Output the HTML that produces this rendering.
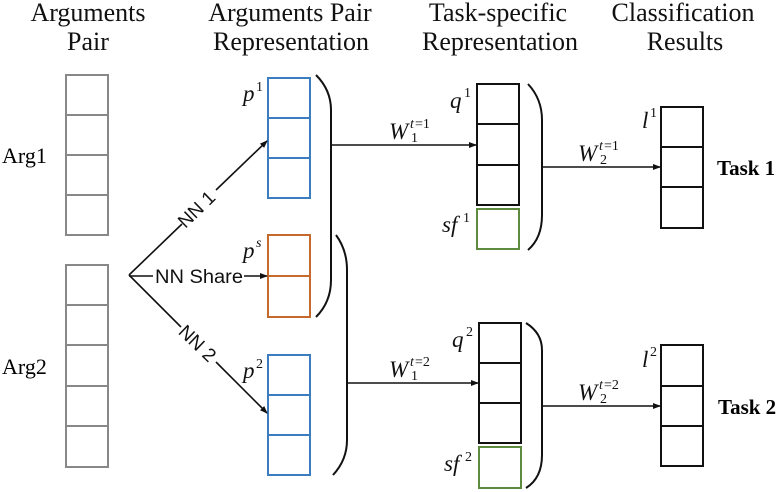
<!DOCTYPE html>
<html><head><meta charset="utf-8"><style>
html,body{margin:0;padding:0;background:#fff;}
svg{display:block;}
.h{font-family:"Liberation Serif",serif;font-size:26px;fill:#111;text-anchor:middle;}
.m{font-family:"Liberation Serif",serif;font-style:italic;font-size:23px;fill:#111;}
.s{font-family:"Liberation Serif",serif;font-size:14px;fill:#111;}
.si{font-family:"Liberation Serif",serif;font-style:italic;font-size:14px;fill:#111;}
.l{font-family:"Liberation Sans",sans-serif;font-size:19px;fill:#111;}
</style></head><body>
<svg width="781" height="492" viewBox="0 0 781 492" xmlns="http://www.w3.org/2000/svg">
<defs><marker id="a" markerWidth="8" markerHeight="6" refX="7" refY="3" orient="auto" markerUnits="userSpaceOnUse"><path d="M0,0 L8,3 L0,6 z" fill="#111"/></marker></defs>
<text class="h" x="88" y="21">Arguments</text><text class="h" x="88" y="50">Pair</text>
<text class="h" x="290" y="21">Arguments Pair</text><text class="h" x="291" y="50">Representation</text>
<text class="h" x="498" y="21">Task-specific</text><text class="h" x="500" y="50">Representation</text>
<text class="h" x="683" y="21">Classification</text><text class="h" x="685" y="50">Results</text>
<g fill="none" stroke="#888" stroke-width="2">
<rect x="66" y="75" width="42" height="160"/><path d="M66 115H108M66 155H108M66 195H108"/>
<rect x="66" y="265" width="42" height="202"/><path d="M66 305H108M66 345H108M66 386H108M66 426H108"/>
</g>
<text x="2" y="163" style="font-family:'Liberation Serif',serif;font-size:22px">Arg1</text>
<text x="2" y="374" style="font-family:'Liberation Serif',serif;font-size:22px">Arg2</text>
<g fill="none" stroke="#3b7dbf" stroke-width="2">
<rect x="268" y="78" width="42" height="120"/><path d="M268 118H310M268 158H310"/>
<rect x="268" y="355" width="42" height="120"/><path d="M268 395H310M268 435H310"/>
</g>
<g fill="none" stroke="#c5692c" stroke-width="2"><rect x="268" y="235" width="42" height="82"/><path d="M268 276H310"/></g>
<g fill="none" stroke="#111" stroke-width="2">
<rect x="477" y="84" width="42" height="121"/><path d="M477 124H519M477 165H519"/>
<rect x="479" y="323" width="42" height="120"/><path d="M479 363H521M479 403H521"/>
<rect x="661" y="107" width="42" height="121"/><path d="M661 147H703M661 187H703"/>
<rect x="661" y="345" width="42" height="121"/><path d="M661 386H703M661 426H703"/>
</g>
<g fill="none" stroke="#5e8a40" stroke-width="2"><rect x="477" y="209" width="42" height="40"/><rect x="479" y="447" width="42" height="41"/></g>
<g fill="none" stroke="#111" stroke-width="2">
<path d="M316 75 Q331 90 331 110 V280 Q331 302 316 317"/>
<path d="M336 235 Q347 250 347 270 V440 Q347 460 333 475"/>
<path d="M528 84 Q542 99 542 120 V215 Q542 238 528 250"/>
<path d="M526 323 Q542 333 542 350 V455 Q542 478 526 488"/>
</g>
<g stroke="#111" stroke-width="1.6" fill="none">
<path d="M331 145H476" marker-end="url(#a)"/>
<path d="M347 383H478" marker-end="url(#a)"/>
<path d="M542 167H660" marker-end="url(#a)"/>
<path d="M542 406H660" marker-end="url(#a)"/>
<path d="M216 190L267 141" marker-end="url(#a)"/>
<path d="M216 362L267 413" marker-end="url(#a)"/>
<path d="M244 276H267" marker-end="url(#a)"/>
<path d="M129 275L182 224"/>
<path d="M129 275L181 327"/>
<path d="M129 276H153"/>
</g>
<text class="l" x="0" y="0" text-anchor="middle" transform="translate(201,214) rotate(-44)">NN 1</text>
<text class="l" x="0" y="0" text-anchor="middle" transform="translate(193,348) rotate(44)">NN 2</text>
<text class="l" x="155" y="283" textLength="88" lengthAdjust="spacingAndGlyphs">NN Share</text>
<text class="m" x="243" y="101">p</text><text class="s" x="256" y="91">1</text>
<text class="m" x="243" y="258">p</text><text class="si" x="256" y="247">s</text>
<text class="m" x="243" y="378">p</text><text class="s" x="256" y="368">2</text>
<text class="m" x="450" y="108">q</text><text class="s" x="464" y="97">1</text>
<text class="m" x="442" y="232">sf</text><text class="s" x="463" y="222">1</text>
<text class="m" x="452" y="347">q</text><text class="s" x="466" y="336">2</text>
<text class="m" x="444" y="471">sf</text><text class="s" x="465" y="461">2</text>
<text class="m" x="642" y="128">l</text><text class="s" x="650" y="117">1</text>
<text class="m" x="642" y="367">l</text><text class="s" x="650" y="356">2</text>
<text class="m" x="389" y="139">W</text><text class="si" x="410" y="128">t</text><text class="s" x="415" y="128">=1</text><text class="s" x="411" y="142">1</text>
<text class="m" x="389" y="377">W</text><text class="si" x="410" y="366">t</text><text class="s" x="415" y="366">=2</text><text class="s" x="411" y="380">1</text>
<text class="m" x="578" y="161">W</text><text class="si" x="599" y="150">t</text><text class="s" x="604" y="150">=1</text><text class="s" x="600" y="164">2</text>
<text class="m" x="578" y="400">W</text><text class="si" x="599" y="389">t</text><text class="s" x="604" y="389">=2</text><text class="s" x="600" y="403">2</text>
<text x="717" y="175" style="font-family:'Liberation Serif',serif;font-weight:bold;font-size:21px">Task 1</text>
<text x="718" y="414" style="font-family:'Liberation Serif',serif;font-weight:bold;font-size:21px">Task 2</text>
</svg>
</body></html>
